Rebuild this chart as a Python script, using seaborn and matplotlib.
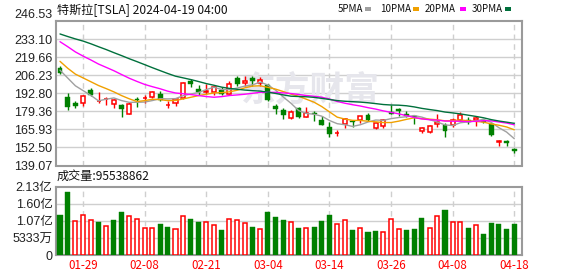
import numpy as np
import pandas as pd
import matplotlib
matplotlib.use('Agg')
import matplotlib.pyplot as plt
from matplotlib.patches import Rectangle
import seaborn as sns

# ---------------- data ----------------
dates = ['01-24', '01-25', '01-26', '01-29', '01-30', '01-31', '02-01', '02-02', '02-05', '02-06',
         '02-07', '02-08', '02-09', '02-12', '02-13', '02-14', '02-15', '02-16', '02-20', '02-21',
         '02-22', '02-23', '02-26', '02-27', '02-28', '02-29', '03-01', '03-04', '03-05', '03-06',
         '03-07', '03-08', '03-11', '03-12', '03-13', '03-14', '03-15', '03-18', '03-19', '03-20',
         '03-21', '03-22', '03-25', '03-26', '03-27', '03-28', '04-01', '04-02', '04-03', '04-04',
         '04-05', '04-08', '04-09', '04-10', '04-11', '04-12', '04-15', '04-16', '04-17', '04-18']

opens = [211.88, 189.70, 185.50, 185.63, 195.33, 187.00, 188.50, 185.04, 184.26, 177.21,
         188.18, 189.00, 190.18, 192.11, 183.99, 185.30, 189.16, 202.06, 196.13, 193.36,
         194.00, 195.31, 192.29, 204.04, 200.42, 204.18, 200.52, 198.73, 183.05, 179.99,
         174.35, 181.50, 175.45, 177.77, 173.05, 167.77, 163.16, 170.02, 172.36, 173.00,
         176.39, 166.69, 168.76, 178.58, 181.41, 177.45, 176.17, 164.75, 164.02, 170.07,
         169.08, 169.34, 172.91, 173.04, 172.55, 172.34, 170.24, 156.74, 157.64, 151.25]
highs = [212.73, 193.00, 186.78, 191.48, 196.36, 193.97, 189.88, 188.69, 184.68, 186.49,
         189.79, 191.62, 194.12, 194.73, 187.26, 188.89, 200.88, 203.17, 198.60, 199.44,
         198.32, 197.57, 201.78, 205.60, 205.30, 205.28, 204.52, 199.75, 184.59, 181.58,
         180.04, 182.73, 182.87, 179.43, 176.05, 171.17, 165.18, 174.72, 172.82, 176.25,
         178.18, 171.20, 173.36, 184.25, 181.91, 179.57, 176.75, 167.69, 168.82, 177.19,
         170.86, 174.50, 179.22, 174.93, 175.88, 173.81, 170.69, 158.19, 158.33, 152.20]
lows = [206.77, 180.06, 182.10, 183.67, 190.61, 185.85, 184.28, 182.00, 175.01, 177.11,
        182.68, 185.58, 189.48, 187.28, 182.11, 183.35, 188.86, 197.40, 191.35, 191.95,
        191.36, 191.50, 192.00, 198.26, 198.44, 198.45, 198.50, 186.72, 177.57, 173.70,
        173.70, 174.70, 174.80, 172.41, 169.15, 160.51, 160.76, 166.80, 167.42, 170.82,
        171.80, 166.30, 167.26, 177.38, 176.00, 175.30, 170.21, 163.43, 163.28, 168.01,
        160.51, 167.79, 171.92, 170.01, 168.51, 170.36, 161.38, 153.75, 153.78, 148.70]
closes = [207.83, 182.63, 183.25, 190.93, 191.59, 187.29, 188.86, 187.91, 181.06, 185.10,
          187.58, 189.56, 193.57, 188.13, 184.02, 188.71, 200.45, 199.95, 193.76, 194.77,
          197.41, 191.97, 199.40, 199.73, 202.04, 201.88, 202.64, 188.14, 180.74, 176.54,
          178.65, 175.34, 177.77, 177.54, 169.48, 162.50, 163.57, 173.80, 171.32, 175.66,
          172.82, 170.83, 172.63, 177.67, 179.83, 175.79, 175.22, 166.63, 168.38, 171.11,
          164.90, 172.98, 176.88, 171.76, 174.60, 171.05, 161.48, 157.11, 155.45, 149.93]
prev_close_first = 209.14

# volume, millions of shares
volumes = [123.4, 198.1, 107.3, 125.0, 110.0, 103.2, 91.4, 110.5, 134.3, 122.7,
           111.5, 83.0, 84.5, 95.5, 86.8, 81.2, 120.8, 111.2, 104.5, 103.8,
           92.7, 78.7, 111.7, 108.6, 99.8, 85.9, 82.1, 134.3, 119.7, 107.9,
           102.1, 85.3, 85.4, 87.4, 107.0, 126.3, 97.0, 108.2, 77.3, 83.8,
           73.2, 75.5, 71.9, 113.2, 81.8, 77.7, 81.6, 116.7, 83.0, 123.2,
           141.3, 104.4, 103.2, 84.5, 94.5, 64.9, 100.2, 97.0, 82.4, 95.54]

ma5 = [209.97, 204.12, 198.33, 194.76, 191.25, 187.14, 188.38, 189.32, 187.34, 186.04,
       186.10, 186.24, 187.37, 188.79, 188.57, 188.80, 190.98, 192.25, 193.38, 195.53,
       197.27, 195.57, 195.46, 196.66, 198.11, 199.00, 201.14, 198.89, 195.09, 189.99,
       185.34, 179.88, 177.81, 177.17, 175.76, 172.53, 170.17, 169.38, 168.13, 169.37,
       171.43, 172.89, 172.65, 173.92, 174.76, 175.35, 176.23, 175.03, 173.17, 171.43,
       169.25, 168.80, 170.85, 171.53, 172.22, 173.45, 171.15, 167.20, 163.94, 159.00]
ma10 = [216.54, 211.40, 207.01, 204.21, 201.38, 198.55, 196.25, 193.82, 191.05, 188.65,
        186.62, 187.31, 188.35, 188.07, 187.31, 187.45, 188.61, 189.81, 191.08, 192.05,
        193.03, 193.27, 193.86, 195.02, 196.82, 198.14, 198.36, 197.17, 195.87, 194.05,
        192.17, 190.51, 188.35, 186.13, 182.87, 178.93, 175.03, 173.59, 172.65, 172.56,
        171.98, 171.53, 171.02, 171.03, 172.06, 173.39, 174.56, 173.84, 173.55, 173.09,
        172.30, 172.51, 172.94, 172.35, 171.83, 171.35, 169.98, 169.03, 167.73, 165.61]
ma20 = [231.14, 227.44, 223.53, 220.42, 217.57, 214.52, 212.04, 209.54, 206.71, 203.95,
        201.58, 199.36, 197.68, 196.14, 194.34, 193.00, 192.43, 191.82, 191.07, 190.35,
        189.83, 190.29, 191.10, 191.54, 192.06, 192.79, 193.48, 193.49, 193.48, 193.05,
        192.60, 191.89, 191.10, 190.57, 189.85, 188.54, 186.69, 185.38, 184.26, 183.31,
        182.08, 181.02, 179.68, 178.58, 177.47, 176.16, 174.79, 173.72, 173.10, 172.83,
        172.14, 172.02, 171.98, 171.69, 171.94, 172.37, 172.27, 171.43, 170.64, 169.35]
ma30 = [236.89, 234.99, 233.20, 231.59, 229.60, 227.40, 225.29, 222.98, 220.78, 218.46,
        216.30, 214.06, 211.80, 209.63, 207.48, 205.49, 204.23, 202.96, 201.50, 199.98,
        198.73, 197.33, 196.40, 195.76, 195.17, 194.71, 194.41, 193.60, 192.67, 191.58,
        190.61, 190.37, 190.18, 189.74, 189.00, 188.17, 187.33, 186.86, 186.54, 186.22,
        185.73, 185.10, 184.41, 184.06, 183.92, 183.49, 182.65, 181.54, 180.69, 179.90,
        178.82, 178.18, 177.43, 176.50, 175.59, 174.56, 173.19, 172.15, 171.31, 170.42]

ma_names = ['5PMA', '10PMA', '20PMA', '30PMA']
ma_colors = ['#a0a0a0', '#f0a000', '#ff00ff', '#00703c']

price_ticks = [139.07, 152.50, 165.93, 179.36, 192.80, 206.23, 219.66, 233.10, 246.53]
vol_ticks = [0, 53.333, 106.667, 160.0, 213.333]
vol_tick_labels = ['0', '5333万', '1.07亿', '1.60亿', '2.13亿']
x_tick_labels = ['01-29', '02-08', '02-21', '03-04', '03-14', '03-26', '04-08', '04-18']

title_text = '特斯拉[TSLA] 2024-04-19 04:00'
vol_label_text = '成交量:95538862'
watermark = '东方财富'

# ---------------- figure ----------------
sns.set_theme(style='white')
plt.rcParams['font.family'] = ['Liberation Sans', 'Noto Sans CJK SC', 'DejaVu Sans']

W, H = 578, 276
fig = plt.figure(figsize=(W / 100, H / 100), dpi=100)
fig.patch.set_facecolor('white')
ax = fig.add_axes([56 / W, 1 - 165.5 / H, 466.3 / W, 144.5 / H])
axv = fig.add_axes([56 / W, 1 - 255 / H, 466.3 / W, 68.3 / H])

RED = '#ff0000'
GREEN = '#008000'
GRID = '#cfcfcf'
FRAME = '#9a9a9a'

o = np.array(opens); h = np.array(highs); l = np.array(lows); c = np.array(closes)
v = np.array(volumes)
x = np.arange(len(dates))
up = c >= o

# wicks
ax.vlines(x, l, h, colors=[RED if u else GREEN for u in up], lw=1, zorder=3)
body_bot = np.minimum(o, c)
body_h = np.maximum(np.abs(c - o), 0.2)
ax.bar(x[up], body_h[up], bottom=body_bot[up], width=0.52, facecolor='white',
       edgecolor=RED, linewidth=1.1, zorder=4)
ax.bar(x[~up], body_h[~up], bottom=body_bot[~up], width=0.64, facecolor=GREEN,
       edgecolor=GREEN, linewidth=0.3, zorder=4)

# moving averages
ma_df = pd.DataFrame({
    'x': np.tile(x, 4),
    'v': np.concatenate([ma5, ma10, ma20, ma30]),
    'k': np.repeat(ma_names, len(x)),
})
sns.lineplot(data=ma_df, x='x', y='v', hue='k', palette=dict(zip(ma_names, ma_colors)),
             ax=ax, legend=False, lw=1.0, zorder=5, sort=False)

# watermark
ax.text(0.545, 0.52, watermark, transform=ax.transAxes, ha='center', va='center',
        fontsize=25, fontweight='bold', color='#e6e6ec', family=['Noto Sans CJK SC'], zorder=1)

# volume
prev = np.concatenate([[prev_close_first], c[:-1]])
vup = c >= prev
axv.bar(x[vup], v[vup], width=0.52, facecolor='white', edgecolor=RED, linewidth=1.1, zorder=3)
axv.bar(x[~vup], v[~vup], width=0.66, facecolor=GREEN, edgecolor=GREEN, linewidth=0.3, zorder=3)

tick_pos = [dates.index(t) for t in x_tick_labels]
for a in (ax, axv):
    a.set_xlim(-0.52, 60.04)
    a.set_xticks(tick_pos)
    a.grid(False)
    for xp in tick_pos:
        a.axvline(xp, color=GRID, lw=1, ls=(0, (4, 3)), zorder=0)
    for s in a.spines.values():
        s.set_visible(True)
        s.set_color(FRAME)
        s.set_linewidth(1.5)
    a.tick_params(axis='both', length=0)
    a.set_xlabel('')
    a.set_ylabel('')

ax.set_ylim(price_ticks[0], price_ticks[-1])
ax.set_yticks(price_ticks)
ax.set_yticklabels(['%.2f' % t for t in price_ticks], fontsize=9, color='#222222')
for t in price_ticks[1:-1]:
    ax.axhline(t, color=GRID, lw=1, zorder=0)
ax.set_xticklabels([])
ax.tick_params(axis='y', pad=2.5)
ax.get_yticklabels()[-1].set_va('bottom')

axv.set_ylim(0, vol_ticks[-1])
axv.set_yticks(vol_ticks)
axv.set_yticklabels(vol_tick_labels, fontsize=9, color='#222222')
for t in vol_ticks[1:-1]:
    axv.axhline(t, color=GRID, lw=1, zorder=0)
axv.set_xticklabels(x_tick_labels, fontsize=8.3, color=RED, family=['Noto Sans CJK SC'])
axv.tick_params(axis='y', pad=2.5)
axv.tick_params(axis='x', pad=3)

# title / labels
fig.text(57 / W, 1 - 10 / H, title_text, ha='left', va='center', fontsize=8.7,
         color='#111111', family=['Noto Sans CJK SC'])
fig.text(57 / W, 1 - 176.5 / H, vol_label_text, ha='left', va='center', fontsize=8.7,
         color='#111111', family=['Noto Sans CJK SC'])

# legend
leg_text_x = [338, 380, 425, 471.5]
leg_box_x = [365, 413, 459.5, 505]
for name, col, tx, bx in zip(ma_names, ma_colors, leg_text_x, leg_box_x):
    fig.text(tx / W, 1 - 9 / H, name, ha='left', va='center', fontsize=7.0,
             color='#111111', family=['Noto Sans CJK SC'])
    fig.patches.append(Rectangle((bx / W, 1 - 10.5 / H), 6 / W, 3.5 / H,
                                 transform=fig.transFigure, facecolor=col, edgecolor='none'))

fig.savefig('out.png', dpi=100, facecolor='white')
